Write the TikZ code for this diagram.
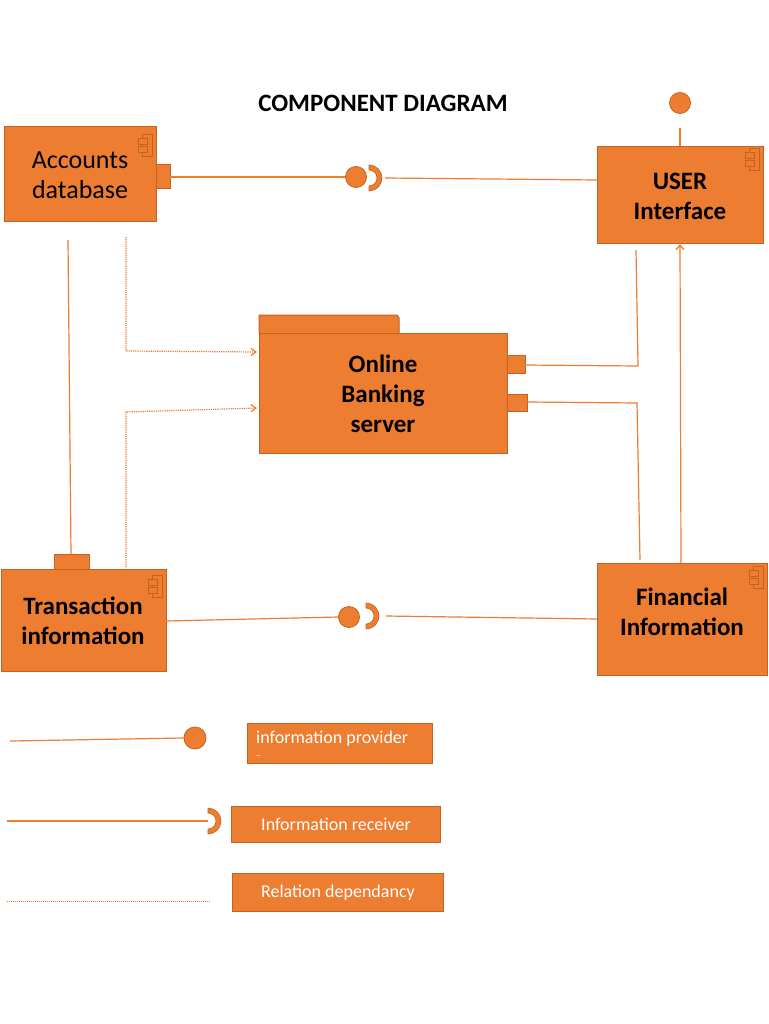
\documentclass[tikz,border=0pt]{standalone}
\usepackage{fontspec}
\setmainfont{Carlito}
\usetikzlibrary{arrows.meta}
\definecolor{org}{HTML}{ED7D31}
\definecolor{dorg}{HTML}{C4621F}
\tikzset{x=1pt,y=-1pt,
 comp/.style={draw=dorg,fill=org,line width=1pt,inner sep=0pt},
 port/.style={draw=dorg,fill=org,line width=0.8pt},
 wire/.style={draw=org,line width=1.2pt},
 dep/.style={draw=org,line width=1.2pt,densely dotted,-{Straight Barb[length=5pt,width=7pt]}},
 ball/.style={draw=dorg,fill=org,line width=0.8pt},
 big/.style={align=center,text=black},
 leg/.style={comp,text=white,font=\fontsize{18}{20}\selectfont}
}
\newcommand{\compicon}[2]{\draw[dorg,line width=0.7pt] (#1-8,#2) rectangle (#1+2,#2+22);
 \draw[dorg,line width=0.7pt,fill=org] (#1-12,#2+4) rectangle (#1-3,#2+10) (#1-12,#2+12) rectangle (#1-3,#2+18);}
\newcommand{\socket}[2]{\fill[org,draw=dorg,line width=0.6pt] (#1,#2-13) arc[start angle=270,end angle=450,radius=13] -- (#1,#2+8) arc[start angle=90,end angle=-90,radius=8] -- cycle;}
\begin{document}
\begin{tikzpicture}
\useasboundingbox[fill=white] (0,0) rectangle (768,1024);
\node[font=\fontsize{25}{30}\selectfont\bfseries] (title) at (383,103) {COMPONENT DIAGRAM};
% boxes
\node[comp,minimum width=152pt,minimum height=95pt,anchor=north west] (acc) at (4,126) {};
\node[big,font=\fontsize{26}{30}\selectfont] at (80,175) {Accounts\\database};
\compicon{150}{134}
\draw[port] (156,164) rectangle (170,188); \coordinate (accp) at (170,177);
\node[comp,minimum width=166pt,minimum height=97pt,anchor=north west] (ui) at (597,146) {};
\node[big,font=\fontsize{25}{30}\selectfont\bfseries] at (680,196) {USER\\Interface};
\compicon{757}{148}
\node[ball,circle,minimum size=21pt,inner sep=0pt] (uib) at (680,103) {};
\draw[wire] (680,128) -- (ui.north -| 680,0);
\draw[comp] (259,333) -- (259,315) -- (397,315) -- (399,318) -- (399,333);
\node[comp,minimum width=248pt,minimum height=120pt,anchor=north west] (srv) at (259,333) {};
\node[big,font=\fontsize{25}{30}\selectfont\bfseries] at (383,394) {Online\\Banking\\server};
\draw[port] (507,355) rectangle (525,373); \coordinate (sp1) at (525,365);
\draw[port] (507,394) rectangle (527,411); \coordinate (sp2) at (527,402);
\node[comp,minimum width=165pt,minimum height=102pt,anchor=north west] (tr) at (1,569) {};
\node[big,font=\fontsize{25}{30}\selectfont\bfseries] at (83,621) {Transaction\\information};
\compicon{160}{575}
\draw[port] (54,554) rectangle (89,569); \coordinate (trp) at (71,554);
\node[comp,minimum width=170pt,minimum height=112pt,anchor=north west] (fi) at (597,563) {};
\node[big,font=\fontsize{25}{30}\selectfont\bfseries] at (682,612) {Financial\\Information};
\compicon{761}{566}
% connectors
\node[ball,circle,minimum width=21pt,minimum height=17pt,inner sep=0pt] (b1) at (356,177) {};
\draw[wire] (accp) -- (b1.west);
\socket{369}{178}
\coordinate (s1) at (385,178);
\draw[wire] (s1) -- (597,180);
\draw[wire] (68,240) -- (trp);
\coordinate (d1) at (126,237);
\draw[dep] (d1) -- (126,351) -- (257,352);
\coordinate (d2) at (126,567);
\draw[dep] (d2) -- (126,412) -- (257,408);
\coordinate (u1) at (636,250);
\draw[wire] (sp1) -- (638,366) -- (u1);
\draw[wire] (sp2) -- (637,403) -- (640,560);
\draw[wire,-{Straight Barb[length=5pt,width=8pt]}] (681,563) -- (ui.south -| 680,0);
\node[ball,circle,minimum width=21pt,minimum height=19pt,inner sep=0pt] (b2) at (349,617) {};
\draw[wire] (166,621) -- (b2.west);
\socket{366}{616}
\coordinate (s2) at (386,616);
\draw[wire] (s2) -- (597,619);
% legend
\node[ball,circle,minimum width=22pt,minimum height=20pt,inner sep=0pt] (lb) at (195,738) {};
\coordinate (l1) at (10,741);
\draw[wire] (l1) -- (lb.west);
\node[leg,minimum width=185pt,minimum height=40pt,anchor=north west] (lp) at (247,723) {};
\node[text=white,font=\fontsize{18}{20}\selectfont,anchor=west,inner sep=0pt] at (256,739) {information provider};
\node[text=white,font=\fontsize{9}{10}\selectfont,anchor=west,inner sep=0pt] at (256,756) {..};
\coordinate (l2) at (7,821);
\draw[wire] (l2) -- (208,821);
\socket{208}{821}
\node[leg,minimum width=209pt,minimum height=36pt,anchor=north west] (lr) at (231,806) {Information receiver};
\coordinate (l3a) at (7,901); \coordinate (l3b) at (211,901);
\draw[org,line width=1pt,densely dotted] (l3a) -- (l3b);
\node[leg,minimum width=211pt,minimum height=38pt,anchor=north west] (ld) at (232,873) {Relation dependancy};
\end{tikzpicture}
\end{document}
